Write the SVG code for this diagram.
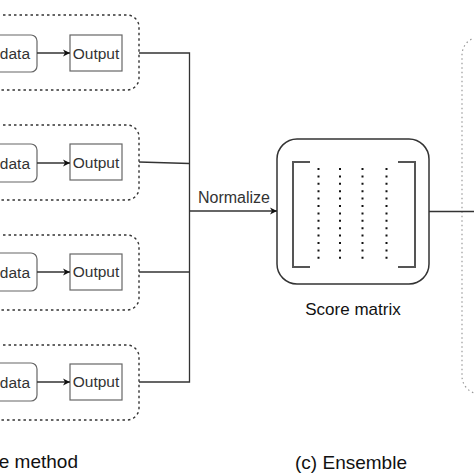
<svg xmlns="http://www.w3.org/2000/svg" width="474" height="474" viewBox="0 0 474 474">
<style>
.grp{fill:none;stroke:#333;stroke-width:1.4;stroke-dasharray:2.5 3}
.box{fill:#fff;stroke:#666;stroke-width:1.2}
.lbl{font-family:"Liberation Sans",Arial,sans-serif;font-size:15.5px;fill:#333}
.ln{fill:none;stroke:#333;stroke-width:1.3}
.br{fill:none;stroke:#555;stroke-width:2}
.dots{stroke:#111;stroke-width:2;stroke-dasharray:2 5.4}
.cap{font-family:"Liberation Sans",Arial,sans-serif;font-size:19px;fill:#111}
</style>
<defs>
<marker id="ah" markerWidth="8" markerHeight="8" refX="7" refY="4" orient="auto" markerUnits="userSpaceOnUse">
<path d="M0,0.5 L7,4 L0,7.5 L2,4 Z" fill="#111"/>
</marker>
</defs>
<g id="method1">
<rect class="grp" x="-20" y="15" width="159" height="75" rx="12"/>
<rect class="box" x="-40" y="35" width="77" height="37" rx="6"/>
<text class="lbl" x="30" y="59" text-anchor="end">data</text>
<rect class="box" x="70" y="35" width="52" height="36"/>
<text class="lbl" x="96" y="58.5" text-anchor="middle">Output</text>
</g>
<g id="method2">
<rect class="grp" x="-20" y="125" width="159" height="75" rx="12"/>
<rect class="box" x="-40" y="144" width="77" height="38" rx="6"/>
<text class="lbl" x="30" y="168.5" text-anchor="end">data</text>
<rect class="box" x="70" y="144" width="52" height="36"/>
<text class="lbl" x="96" y="168" text-anchor="middle">Output</text>
</g>
<g id="method3">
<rect class="grp" x="-20" y="235" width="159" height="75" rx="12"/>
<rect class="box" x="-40" y="253" width="77" height="38" rx="6"/>
<text class="lbl" x="30" y="277.5" text-anchor="end">data</text>
<rect class="box" x="70" y="254" width="52" height="36"/>
<text class="lbl" x="96" y="277" text-anchor="middle">Output</text>
</g>
<g id="method4">
<rect class="grp" x="-20" y="345" width="159" height="75" rx="12"/>
<rect class="box" x="-40" y="363" width="77" height="38" rx="6"/>
<text class="lbl" x="30" y="387.5" text-anchor="end">data</text>
<rect class="box" x="70" y="364" width="52" height="36"/>
<text class="lbl" x="96" y="387" text-anchor="middle">Output</text>
</g>
<g id="score-matrix">
<rect x="277" y="139" width="152" height="145" rx="20" fill="#fff" stroke="#333" stroke-width="1.5"/>
<path class="br" d="M310,162 H293 V267 H310"/>
<path class="br" d="M398,162 H415 V267 H398"/>
<line class="dots" x1="318.5" y1="168" x2="318.5" y2="260"/>
<line class="dots" x1="340" y1="168" x2="340" y2="260"/>
<line class="dots" x1="362.5" y1="168" x2="362.5" y2="260"/>
<line class="dots" x1="386.5" y1="168" x2="386.5" y2="260"/>
<text x="353" y="315" text-anchor="middle" font-family="Liberation Sans, Arial, sans-serif" font-size="17" fill="#111">Score matrix</text>
</g>
<g id="ensemble-panel">
<rect x="462" y="37" width="60" height="357" rx="18" fill="none" stroke="#999" stroke-width="1.2" stroke-dasharray="1.5 3"/>
</g>
<g id="connectors">
<line class="ln" x1="37" y1="53" x2="70" y2="53" marker-end="url(#ah)"/>
<line class="ln" x1="37" y1="163" x2="70" y2="163" marker-end="url(#ah)"/>
<line class="ln" x1="37" y1="272" x2="70" y2="272" marker-end="url(#ah)"/>
<line class="ln" x1="37" y1="382" x2="70" y2="382" marker-end="url(#ah)"/>
<path class="ln" d="M139,53 H189.5 V382 H139"/>
<path class="ln" d="M139,162 L189.5,163.5"/>
<line class="ln" x1="139" y1="272" x2="189.5" y2="272"/>
<line class="ln" x1="189.5" y1="211" x2="277" y2="211" marker-end="url(#ah)"/>
<text x="234" y="203" text-anchor="middle" font-family="Liberation Sans, Arial, sans-serif" font-size="16" fill="#333">Normalize</text>
<line class="ln" x1="429" y1="211.5" x2="474" y2="211.5"/>
</g>
<text class="cap" x="78" y="468" text-anchor="end">e method</text>
<text class="cap" x="351" y="469" text-anchor="middle">(c) Ensemble</text>
</svg>
